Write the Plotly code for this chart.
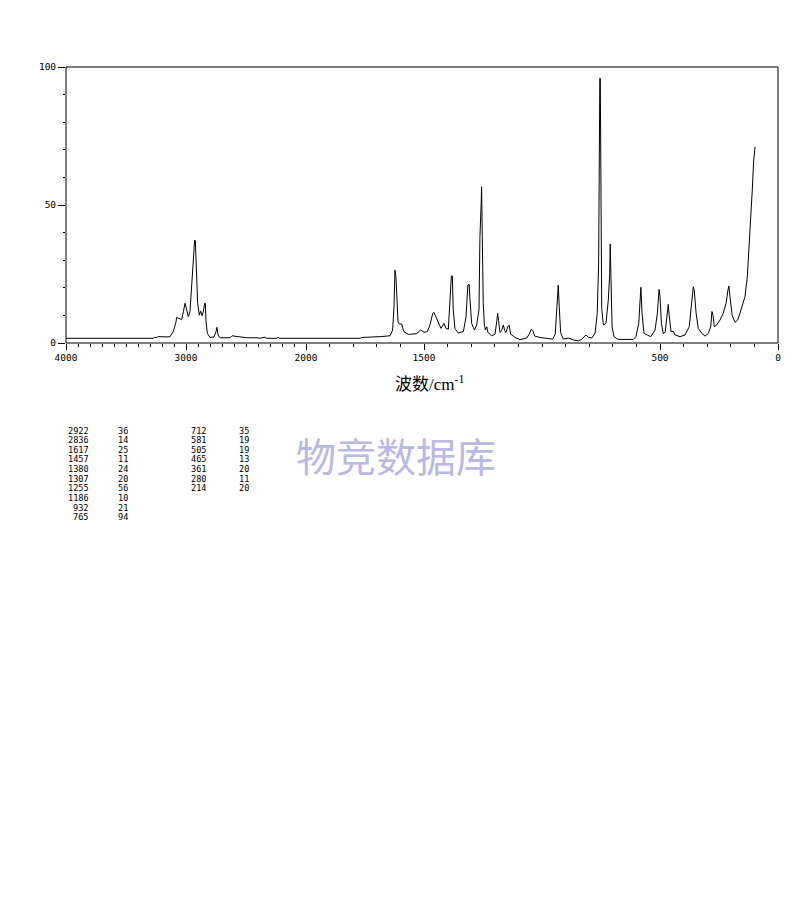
import plotly.graph_objects as go

# ---------------- data ----------------
# 4000-2000 cm-1 segment (compressed scale)
WN_HIGH = [4000, 3600, 3270, 3265, 3240, 3235, 3200, 3170, 3150, 3133, 3106, 3083, 3078,
           3058, 3036, 3022, 3008, 2994, 2981, 2967, 2953, 2939, 2928, 2922, 2914, 2903,
           2889, 2878, 2867, 2856, 2844, 2839, 2833, 2822, 2800, 2767, 2750, 2742, 2733,
           2717, 2633, 2617, 2564, 2494, 2400, 2390, 2342, 2330, 2300, 2240, 2233, 2225,
           2100, 2000]
I_HIGH = [1.7, 1.7, 1.7, 2.0, 2.0, 2.3, 2.2, 2.0, 2.2, 2.3, 4.1, 7.7, 9.3,
          8.9, 8.5, 11.3, 14.4, 12.0, 9.6, 11.3, 19.8, 27.0, 37.3, 37.0, 29.5, 14.4,
          10.1, 11.6, 9.9, 11.3, 14.4, 14.4, 7.7, 3.5, 2.0, 2.2, 4.1, 5.7, 2.9,
          1.9, 1.9, 2.6, 2.3, 1.9, 1.9, 1.7, 2.1, 1.7, 1.7, 1.7, 2.1, 1.7,
          1.7, 1.7]

# 2000-0 cm-1 segment (expanded scale)
WN_LOW = [2000, 1900, 1770, 1764, 1700, 1686, 1644, 1633, 1627, 1623, 1619, 1616, 1610,
          1605, 1595, 1585, 1566, 1531, 1514, 1500, 1486, 1475, 1463, 1458, 1449, 1439,
          1428, 1415, 1407, 1397, 1390, 1384, 1380, 1376, 1369, 1355, 1333, 1322, 1314,
          1309, 1305, 1298, 1286, 1277, 1267, 1263, 1258, 1256, 1253, 1249, 1244, 1240,
          1234, 1229, 1213, 1199, 1192, 1188, 1184, 1178, 1171, 1164, 1158, 1153, 1145,
          1139, 1133, 1114, 1093, 1065, 1054, 1045, 1039, 1031, 1008, 973, 955, 944,
          938, 933, 931, 927, 921, 910, 889, 867, 846, 832, 814, 804, 789, 775,
          766, 760, 757, 755, 753, 750, 747, 740, 729, 719, 713, 711, 708, 703,
          695, 677, 613, 602, 590, 585, 581, 576, 568, 554, 539, 521, 511, 504,
          500, 494, 486, 478, 469, 465, 461, 453, 444, 436, 415, 394, 376, 366,
          359, 355, 347, 338, 323, 309, 295, 285, 280, 275, 270, 260, 246, 232,
          220, 212, 208, 202, 194, 182, 171, 161, 150, 140, 130, 122, 114, 109,
          103, 97]
I_LOW = [1.7, 1.7, 1.7, 2.0, 2.1, 2.3, 2.6, 4.7, 13.2, 26.4, 24.0, 16.8, 7.7,
         6.9, 6.9, 4.1, 3.1, 3.4, 4.7, 3.9, 4.1, 6.5, 10.7, 11.1, 9.2, 7.1,
         5.3, 7.1, 5.3, 5.0, 14.4, 24.3, 24.3, 12.0, 5.3, 3.6, 4.2, 9.4, 21.0,
         21.3, 15.6, 7.1, 4.7, 6.5, 12.0, 38.5, 50.0, 56.6, 38.5, 14.4, 6.5, 4.7,
         5.9, 3.8, 2.6, 3.2, 7.7, 10.7, 8.2, 3.8, 4.5, 6.5, 4.5, 3.8, 5.9,
         6.5, 3.2, 2.0, 1.2, 1.8, 3.2, 5.0, 4.5, 2.5, 2.0, 1.6, 1.4, 3.2,
         13.2, 21.0, 21.0, 13.2, 3.8, 1.4, 1.8, 1.1, 0.8, 1.3, 2.9, 2.1, 1.8, 3.6,
         10.7, 29.0, 92.3, 95.9, 95.9, 38.5, 12.6, 6.5, 7.1, 15.6, 25.2, 35.9, 18.0, 5.9,
         2.3, 1.3, 1.3, 2.3, 7.1, 18.0, 20.2, 10.8, 3.5, 2.9, 2.3, 4.7, 10.8, 19.4,
         16.8, 7.1, 3.3, 4.0, 11.4, 14.0, 9.9, 4.0, 4.3, 2.9, 2.3, 2.9, 5.9, 13.2,
         20.4, 19.2, 10.8, 5.3, 3.5, 2.5, 3.5, 5.9, 11.4, 9.9, 5.9, 6.5, 8.3, 10.8,
         14.4, 19.2, 20.7, 15.6, 9.9, 7.5, 8.3, 10.8, 14.4, 16.8, 24.0, 34.9, 44.6, 55.4,
         66.3, 71.1]

# axis tick labels
X_HIGH_TICKS = [4000, 3000, 2000]
X_LOW_TICKS = [1500, 500, 0]
Y_TICKS = [0, 50, 100]

# peak table (wavenumber, intensity)
PEAK_WN_1 = ["2922", "2836", "1617", "1457", "1380", "1307", "1255", "1186", "932", "765"]
PEAK_I_1 = ["36", "14", "25", "11", "24", "20", "56", "10", "21", "94"]
PEAK_WN_2 = ["712", "581", "505", "465", "361", "280", "214"]
PEAK_I_2 = ["35", "19", "19", "13", "20", "11", "20"]

X_TITLE = "波数/cm<sup>-1</sup>"
WATERMARK = "物竞数据库"

# ---------------- layout geometry ----------------
W, H = 794, 907
L, R, T, B = 66, 778, 67, 343
PW, PH = R - L, B - T
SPLIT = 240 / 712  # fraction of width used by 4000-2000 segment

def px(x):
    return (x - L) / PW

def py(y):
    return (B - y) / PH

TICK_FONT = dict(family="DejaVu Sans Mono", size=9.5, color="black")

fig = go.Figure()
fig.add_trace(go.Scatter(x=WN_HIGH, y=I_HIGH, xaxis="x", yaxis="y", mode="lines",
                         line=dict(color="black", width=1), hoverinfo="skip", showlegend=False))
fig.add_trace(go.Scatter(x=WN_LOW, y=I_LOW, xaxis="x2", yaxis="y", mode="lines",
                         line=dict(color="black", width=1), hoverinfo="skip", showlegend=False))

fig.update_layout(
    width=W, height=H, autosize=False,
    margin=dict(l=L, r=W - R, t=T, b=H - B, pad=0, autoexpand=False),
    paper_bgcolor="white", plot_bgcolor="white",
    showlegend=False,
    xaxis=dict(domain=[0, SPLIT], range=[4000, 2000], anchor="y", automargin=False,
               tickmode="array", tickvals=X_HIGH_TICKS, ticktext=[str(v) for v in X_HIGH_TICKS],
               ticks="outside", ticklen=6, tickwidth=1, tickcolor="black",
               minor=dict(tickmode="linear", tick0=0, dtick=100, ticks="outside",
                          ticklen=3, tickcolor="black", showgrid=False),
               showgrid=False, zeroline=False, showline=False, tickfont=TICK_FONT),
    xaxis2=dict(domain=[SPLIT, 1], range=[2000, 0], anchor="y", automargin=False,
                tickmode="array", tickvals=X_LOW_TICKS, ticktext=[str(v) for v in X_LOW_TICKS],
                ticks="outside", ticklen=6, tickwidth=1, tickcolor="black",
                minor=dict(tickmode="linear", tick0=0, dtick=100, ticks="outside",
                           ticklen=3, tickcolor="black", showgrid=False),
                showgrid=False, zeroline=False, showline=False, tickfont=TICK_FONT),
    yaxis=dict(domain=[0, 1], range=[0, 100], anchor="x", automargin=False,
               tickmode="array", tickvals=Y_TICKS, ticktext=[str(v) for v in Y_TICKS],
               ticks="outside", ticklen=7, tickwidth=1, tickcolor="black",
               minor=dict(tickmode="linear", tick0=0, dtick=10, ticks="outside",
                          ticklen=2, tickcolor="black", showgrid=False),
               showgrid=False, zeroline=False, showline=False, tickfont=TICK_FONT),
    shapes=[dict(type="rect", xref="paper", yref="paper", x0=0, x1=1, y0=0, y1=1,
                 line=dict(color="black", width=1), fillcolor="rgba(0,0,0,0)")],
)

annotations = []
# axis title
annotations.append(dict(text=X_TITLE, xref="paper", yref="paper", x=px(429), y=py(383),
                        xanchor="center", yanchor="middle", showarrow=False,
                        font=dict(family="Liberation Serif, Noto Sans CJK SC", size=17, color="black")))
# watermark
annotations.append(dict(text=WATERMARK, xref="paper", yref="paper", x=px(396), y=py(455),
                        xanchor="center", yanchor="middle", showarrow=False,
                        font=dict(family="Noto Sans CJK SC", size=40, color="rgb(185,185,230)")))
# peak table
TABLE_FONT = dict(family="DejaVu Sans Mono", size=8.6, color="black")
ROW0, ROWSTEP = 430, 9.63
def cell(text, xr, yc):
    return dict(text=text, xref="paper", yref="paper", x=px(xr), y=py(yc),
                xanchor="right", yanchor="middle", showarrow=False, font=TABLE_FONT,
                borderpad=0, height=9)
for i, (wn, inten) in enumerate(zip(PEAK_WN_1, PEAK_I_1)):
    yc = ROW0 + i * ROWSTEP
    annotations.append(cell(wn, 89.5, yc))
    annotations.append(cell(inten, 129, yc))
for i, (wn, inten) in enumerate(zip(PEAK_WN_2, PEAK_I_2)):
    yc = ROW0 + i * ROWSTEP
    annotations.append(cell(wn, 207.5, yc))
    annotations.append(cell(inten, 249.5, yc))
fig.update_layout(annotations=annotations)

fig.write_html("out.html", config={"displayModeBar": False, "responsive": False},
               post_script="document.documentElement.style.margin='0';"
                           "document.body.style.margin='0';document.body.style.padding='0';"
                           "document.body.style.overflow='hidden';")
